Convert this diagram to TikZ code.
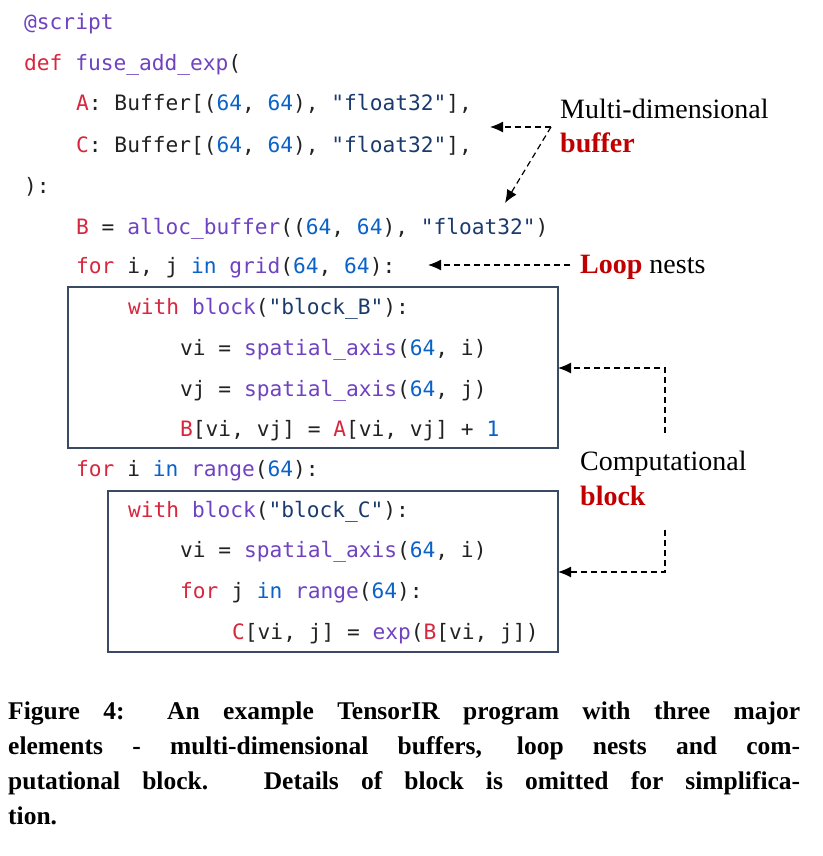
\documentclass[tikz,border=0pt]{standalone}
\usepackage{fontspec}
\setmainfont{Liberation Serif}
\newfontfamily\cd{DejaVu Sans Mono}
\usetikzlibrary{arrows.meta}
\definecolor{kr}{HTML}{D7263D}
\definecolor{kp}{HTML}{6F42C1}
\definecolor{kb}{HTML}{0A62C9}
\definecolor{ks}{HTML}{1A3A6E}
\definecolor{kk}{HTML}{222222}
\definecolor{lr}{HTML}{C00000}
\definecolor{bx}{HTML}{3B4A63}
\newcommand\R[1]{\textcolor{kr}{#1}}
\newcommand\PP[1]{\textcolor{kp}{#1}}
\newcommand\B[1]{\textcolor{kb}{#1}}
\newcommand\Sx[1]{\textcolor{ks}{#1}}
\begin{document}
\begin{tikzpicture}[x=1pt,y=-1pt,
 code/.style={anchor=base west,inner sep=0pt,font=\cd\fontsize{21.2}{24}\selectfont,text=kk},
 lab/.style={anchor=base west,inner sep=0pt,font=\fontsize{28}{30}\selectfont},
 dsh/.style={line width=1.2pt,dash pattern=on 6pt off 4pt},
 arr/.style={dsh,-{Latex[length=13pt,width=11pt]}},
 box/.style={draw=bx,line width=1.3pt}]
\useasboundingbox (0,0) rectangle (822,856);
\node[code] (l1) at (24,30) {\PP{@script}};
\node[code] (l2) at (24,71) {\R{def} \PP{fuse\_add\_exp}(};
\node[code] (l3) at (76,111) {\R{A}: Buffer[(\B{64}, \B{64}), \Sx{"float32"}],};
\node[code] (l4) at (76,152) {\R{C}: Buffer[(\B{64}, \B{64}), \Sx{"float32"}],};
\node[code] (l5) at (24,193) {):};
\node[code] (l6) at (76,234) {\R{B} = \PP{alloc\_buffer}((\B{64}, \B{64}), \Sx{"float32"})};
\node[code] (l7) at (76,273) {\R{for} i, j \B{in} \PP{grid}(\B{64}, \B{64}):};
\node[code] (l8) at (128,314) {\R{with} \PP{block}(\Sx{"block\_B"}):};
\node[code] (l9) at (180,355) {vi = \PP{spatial\_axis}(\B{64}, i)};
\node[code] (l10) at (180,396) {vj = \PP{spatial\_axis}(\B{64}, j)};
\node[code] (l11) at (180,436) {\R{B}[vi, vj] = \R{A}[vi, vj] + \B{1}};
\node[code] (l12) at (76,476) {\R{for} i \B{in} \PP{range}(\B{64}):};
\node[code] (l13) at (128,517) {\R{with} \PP{block}(\Sx{"block\_C"}):};
\node[code] (l14) at (180,557) {vi = \PP{spatial\_axis}(\B{64}, i)};
\node[code] (l15) at (180,598) {\R{for} j \B{in} \PP{range}(\B{64}):};
\node[code] (l16) at (232,639) {\R{C}[vi, j] = \PP{exp}(\R{B}[vi, j])};
\draw[box] (68,287) rectangle (558,448);
\draw[box] (108,491) rectangle (558,652);
\coordinate (boxB) at (558,368);
\coordinate (boxC) at (558,572);
\node[lab] (md) at (560,118) {Multi-dimensional};
\node[lab,text=lr] (bf) at (560,153) {\textbf{buffer}};
\node[lab] (ln) at (580,273) {\textcolor{lr}{\textbf{Loop}} nests};
\node[lab] (ct) at (580,470) {Computational};
\node[lab,text=lr] (bk) at (580,505) {\textbf{block}};
\coordinate (bj) at (551,127);
\coordinate (bA) at (490,127);
\coordinate (bB) at (505,203);
\draw[arr] (bj) -- (bA);
\draw[arr] (bj) -- (bB);
\coordinate (lj) at (570,265);
\coordinate (lA) at (428,265);
\draw[arr] (lj) -- (lA);
\coordinate (c1) at (665,433);
\coordinate (c2) at (665,530);
\draw[arr] (c1) -- (665,368) -- (boxB);
\draw[arr] (c2) -- (665,572) -- (boxC);
\node[anchor=north west,inner sep=0pt,text width=792pt,align=justify,font=\bfseries\fontsize{25.5}{35}\selectfont] (cap) at (8,702)
{Figure 4: An example TensorIR program with three major\linebreak elements - multi-dimensional buffers, loop nests and com-\linebreak putational block. Details of block is omitted for simplifica-\linebreak tion.};
\end{tikzpicture}
\end{document}
